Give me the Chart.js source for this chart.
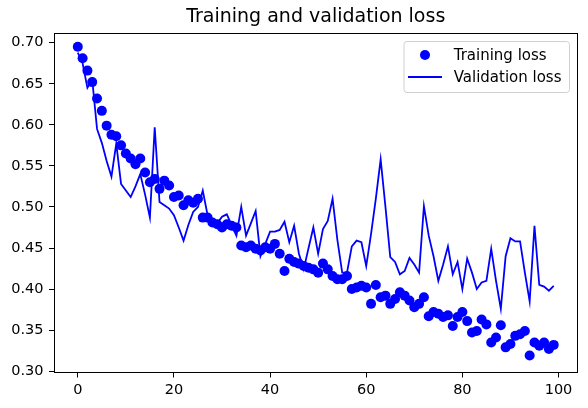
<!DOCTYPE html>
<html>
<head>
<meta charset="utf-8">
<style>
  html, body { margin: 0; padding: 0; background: #fff; }
  #wrap { width: 588px; height: 408px; }
</style>
</head>
<body>
<div id="wrap"><canvas id="lossChart" width="588" height="408"></canvas></div>

<script src="https://cdn.jsdelivr.net/npm/chart.js"></script>
<script>
const chartTitle = 'Training and validation loss';
const seriesNames = ['Training loss', 'Validation loss'];

const epochs = [
    0, 1, 2, 3, 4, 5, 6, 7, 8, 9,
    10, 11, 12, 13, 14, 15, 16, 17, 18, 19,
    20, 21, 22, 23, 24, 25, 26, 27, 28, 29,
    30, 31, 32, 33, 34, 35, 36, 37, 38, 39,
    40, 41, 42, 43, 44, 45, 46, 47, 48, 49,
    50, 51, 52, 53, 54, 55, 56, 57, 58, 59,
    60, 61, 62, 63, 64, 65, 66, 67, 68, 69,
    70, 71, 72, 73, 74, 75, 76, 77, 78, 79,
    80, 81, 82, 83, 84, 85, 86, 87, 88, 89,
    90, 91, 92, 93, 94, 95, 96, 97, 98, 99
];

const trainLoss = [
    0.695, 0.681, 0.666, 0.652, 0.632, 0.617, 0.599, 0.588, 0.586, 0.575,
    0.565, 0.559, 0.552, 0.559, 0.542, 0.530, 0.534, 0.522, 0.532, 0.526,
    0.512, 0.514, 0.502, 0.508, 0.505, 0.510, 0.487, 0.487, 0.481, 0.479,
    0.475, 0.479, 0.477, 0.475, 0.453, 0.451, 0.453, 0.449, 0.447, 0.451,
    0.449, 0.455, 0.443, 0.422, 0.437, 0.433, 0.431, 0.428, 0.426, 0.424,
    0.420, 0.431, 0.424, 0.416, 0.412, 0.412, 0.416, 0.400, 0.402, 0.404,
    0.402, 0.382, 0.405, 0.390, 0.392, 0.382, 0.388, 0.396, 0.392, 0.386,
    0.378, 0.382, 0.390, 0.367, 0.372, 0.370, 0.366, 0.368, 0.355, 0.366,
    0.372, 0.361, 0.347, 0.349, 0.363, 0.357, 0.335, 0.341, 0.356, 0.329,
    0.333, 0.343, 0.345, 0.349, 0.319, 0.335, 0.331, 0.335, 0.327, 0.332
];

const valLoss = [
    0.688, 0.675, 0.645, 0.655, 0.595, 0.578, 0.556, 0.537, 0.577, 0.528,
    0.520, 0.512, 0.525, 0.540, 0.515, 0.487, 0.597, 0.506, 0.502, 0.498,
    0.490, 0.475, 0.459, 0.478, 0.494, 0.500, 0.520, 0.490, 0.485, 0.480,
    0.488, 0.491, 0.478, 0.465, 0.500, 0.465, 0.480, 0.495, 0.440, 0.455,
    0.470, 0.470, 0.472, 0.482, 0.457, 0.477, 0.443, 0.424, 0.450, 0.475,
    0.443, 0.473, 0.483, 0.510, 0.460, 0.420, 0.420, 0.452, 0.459, 0.457,
    0.428, 0.467, 0.510, 0.558, 0.500, 0.439, 0.433, 0.418, 0.422, 0.438,
    0.430, 0.420, 0.501, 0.465, 0.440, 0.410, 0.430, 0.452, 0.418, 0.433,
    0.400, 0.437, 0.420, 0.400, 0.408, 0.410, 0.449, 0.410, 0.376, 0.440,
    0.462, 0.458, 0.458, 0.420, 0.385, 0.477, 0.405, 0.403, 0.398, 0.404
];

const xTicks = [0, 20, 40, 60, 80, 100];
const yTicks = [0.30, 0.35, 0.40, 0.45, 0.50, 0.55, 0.60, 0.65, 0.70];

const FONT = "'DejaVu Sans', sans-serif";

function toPoints(ys) {
    return epochs.map((x, i) => ({ x: x, y: ys[i] }));
}

// matplotlib style frame + legend box inside the axes
const frameAndLegend = {
    id: 'frameAndLegend',
    afterDatasetsDraw(chart) {
        const ctx = chart.ctx;
        const a = chart.chartArea;
        ctx.save();
        ctx.strokeStyle = '#000';
        ctx.lineWidth = 1;
        const l = Math.round(a.left) + 0.5, t = Math.round(a.top) + 0.5;
        const r = Math.round(a.right) - 0.5, b = Math.round(a.bottom) - 0.5;
        ctx.strokeRect(l, t, r - l, b - t);
        ctx.restore();
    },
    afterDraw(chart) {
        const ctx = chart.ctx;
        const a = chart.chartArea;
        const sets = chart.data.datasets;
        ctx.save();
        ctx.font = '15px ' + FONT;
        let textW = 0;
        sets.forEach(ds => { textW = Math.max(textW, ctx.measureText(ds.label).width); });
        const padL = 4.5, handle = 34, gap = 11.7, padR = 7.5;
        const w = padL + handle + gap + textW + padR;
        const h = 51;
        const x0 = a.right - 8.5 - w;
        const y0 = a.top + 8;

        ctx.beginPath();
        ctx.roundRect(x0 + 0.5, y0 + 0.5, w, h, 3);
        ctx.fillStyle = 'rgba(255,255,255,0.8)';
        ctx.fill();
        ctx.strokeStyle = '#d0d0d0';
        ctx.lineWidth = 1;
        ctx.stroke();

        const hx = x0 + padL;
        sets.forEach((ds, i) => {
            const cy = y0 + 14 + i * 22;
            if (ds.showLine) {
                ctx.beginPath();
                ctx.moveTo(hx, cy);
                ctx.lineTo(hx + handle, cy);
                ctx.strokeStyle = ds.borderColor;
                ctx.lineWidth = ds.borderWidth;
                ctx.stroke();
            } else {
                ctx.beginPath();
                ctx.arc(hx + handle / 2, cy, ds.pointRadius, 0, Math.PI * 2);
                ctx.fillStyle = ds.backgroundColor;
                ctx.fill();
            }
            ctx.fillStyle = '#000';
            ctx.textBaseline = 'middle';
            ctx.textAlign = 'left';
            ctx.fillText(ds.label, hx + handle + gap, cy + 1);
        });
        ctx.restore();
    }
};

const ctx = document.getElementById('lossChart').getContext('2d');
new Chart(ctx, {
    type: 'scatter',
    data: {
        datasets: [
            {
                label: seriesNames[0],
                data: toPoints(trainLoss),
                showLine: false,
                pointRadius: 5,
                pointHoverRadius: 5,
                pointBorderWidth: 0,
                backgroundColor: '#0000ff',
                borderColor: '#0000ff',
                order: 2
            },
            {
                label: seriesNames[1],
                data: toPoints(valLoss),
                showLine: true,
                pointRadius: 0,
                borderColor: '#0000ff',
                backgroundColor: '#0000ff',
                borderWidth: 1.8,
                tension: 0,
                order: 1
            }
        ]
    },
    options: {
        responsive: false,
        devicePixelRatio: 1,
        animation: false,
        layout: { padding: { left: 0, right: 10.5, top: 0, bottom: 0 } },
        plugins: {
            legend: { display: false },
            tooltip: { enabled: false },
            title: {
                display: true,
                text: chartTitle,
                fullSize: false,
                color: '#000',
                font: { family: FONT, size: 19, weight: 'normal', lineHeight: 1.2 },
                padding: { top: 6, bottom: 4.2 }
            }
        },
        scales: {
            x: {
                type: 'linear',
                min: -4.95,
                max: 103.95,
                afterBuildTicks: scale => { scale.ticks = xTicks.map(v => ({ value: v })); },
                afterFit: scale => { scale.height = 35.5; },
                ticks: {
                    autoSkip: false,
                    maxRotation: 0,
                    color: '#000',
                    padding: 4,
                    font: { family: FONT, size: 14.5 },
                    callback: v => String(v)
                },
                grid: { display: true, drawOnChartArea: false, drawTicks: true, tickLength: 5, color: '#000', lineWidth: 1 },
                border: { display: false }
            },
            y: {
                type: 'linear',
                min: 0.2984,
                max: 0.7118,
                afterBuildTicks: scale => { scale.ticks = yTicks.map(v => ({ value: v })); },
                afterFit: scale => { scale.width = 54; },
                ticks: {
                    autoSkip: false,
                    color: '#000',
                    padding: 5.5,
                    font: { family: FONT, size: 14.5 },
                    callback: v => v.toFixed(2)
                },
                grid: { display: true, drawOnChartArea: false, drawTicks: true, tickLength: 5, color: '#000', lineWidth: 1 },
                border: { display: false }
            }
        }
    },
    plugins: [frameAndLegend]
});
</script>
</body>
</html>
